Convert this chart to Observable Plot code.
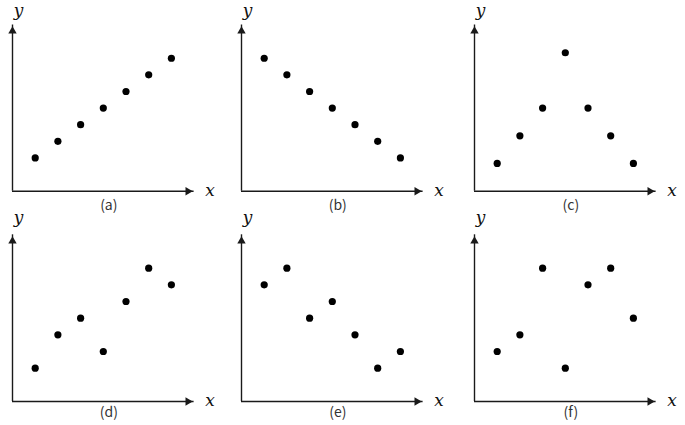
<!DOCTYPE html>
<html>
<head>
<meta charset="utf-8">
<script src="https://cdn.jsdelivr.net/npm/d3@7"></script>
<script src="https://cdn.jsdelivr.net/npm/@observablehq/plot@0.6"></script>
<style>
  html, body { margin: 0; padding: 0; background: #fff; }
  #chart { position: relative; width: 685px; height: 425px; overflow: hidden; }
  #chart svg { position: absolute; overflow: visible; }
</style>
</head>
<body>
<div id="chart"></div>
<script>
// Data
const xs = [1, 2, 3, 4, 5, 6, 7];
const seriesA = [2, 3, 4, 5, 6, 7, 8];
const seriesB = [8, 7, 6, 5, 4, 3, 2];
const seriesC = [1.67, 3.33, 5, 8.33, 5, 3.33, 1.67];
const seriesD = [2, 4, 5, 3, 6, 8, 7];
const seriesE = [7, 8, 5, 6, 4, 2, 3];
const seriesF = [3, 4, 8, 2, 7, 8, 5];
const panelLabels = ["(a)", "(b)", "(c)", "(d)", "(e)", "(f)"];
const axisLabelX = "x";
const axisLabelY = "y";

const allSeries = [seriesA, seriesB, seriesC, seriesD, seriesE, seriesF];

// layout
const originsX = [11.7, 241, 474];
const ML = 30, W = 230, X_SPAN = 181.6;
const rowTop = [0, 210];
const rowMarginTop = [24.5, 24.3];
const rowMarginBottom = [21.3, 21];
const rowLabelDy = [14.5, 11.5];
const H = 212;
const serif = "DejaVu Serif";

const chart = document.getElementById("chart");

allSeries.forEach((ys, i) => {
  const row = Math.floor(i / 3), col = i % 3;
  const pts = xs.map((x, k) => ({x, y: ys[k]}));
  const axisColor = "#1a1a1a";
  const svg = Plot.plot({
    width: W,
    height: H,
    marginLeft: ML,
    marginRight: W - ML - X_SPAN,
    marginTop: rowMarginTop[row],
    marginBottom: rowMarginBottom[row],
    x: {domain: [0, 8], axis: null},
    y: {domain: [0, 10], axis: null},
    style: {overflow: "visible", background: "transparent"},
    marks: [
      Plot.ruleX([0], {y1: 0, y2: 10, stroke: axisColor, strokeWidth: 1.4}),
      Plot.ruleY([0], {x1: 0, x2: 8, stroke: axisColor, strokeWidth: 1.4}),
      Plot.dot([0], {x: 0, y: 10, symbol: "triangle2", r: 4, fill: axisColor, stroke: "none", dy: 6.2}),
      Plot.dot([0], {x: 8, y: 0, symbol: "triangle2", r: 4, fill: axisColor, stroke: "none", rotate: 90, dx: -6.2}),
      Plot.dot(pts, {x: "x", y: "y", r: 3.6, fill: "#000", stroke: "none"}),
      Plot.text([axisLabelY], {x: 0, y: 10, text: d => d, dx: 6, dy: -9 - (row ? 2.5 : 0), lineAnchor: "bottom",
        fontFamily: serif, fontStyle: "italic", fontSize: 17, fill: "#111"}),
      Plot.text([axisLabelX], {x: 8, y: 0, text: d => d, dx: 16, dy: -1, lineAnchor: "middle",
        fontFamily: serif, fontStyle: "italic", fontSize: 17, fill: "#111"}),
      Plot.text([panelLabels[i]], {frameAnchor: "bottom", text: d => d, dx: 5.5, dy: rowLabelDy[row], lineAnchor: "middle",
        fontFamily: "Noto Sans CJK SC", fontSize: 14, fill: "#333"})
    ]
  });
  svg.style.left = (originsX[col] - ML) + "px";
  svg.style.top = rowTop[row] + "px";
  chart.appendChild(svg);
});
</script>
</body>
</html>
